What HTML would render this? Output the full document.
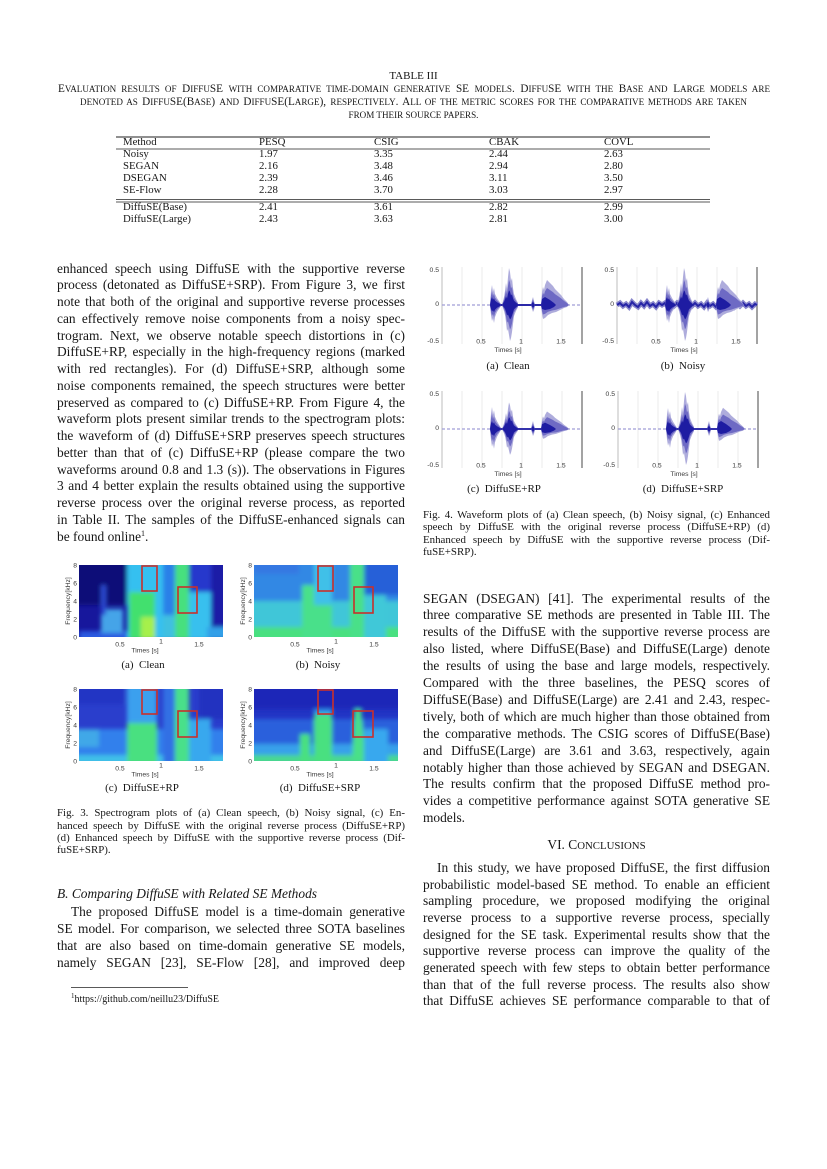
<!DOCTYPE html>
<html><head><meta charset="utf-8">
<style>
body{margin:0;background:#fff}
#p{position:relative;width:827px;height:1169px;overflow:hidden;background:#fff;font-family:"Liberation Serif","Times New Roman",serif;color:#161616}
.l{position:absolute;left:57px;width:348px;font-size:13.4px;line-height:17px;height:17px;text-align:justify;text-align-last:justify;white-space:normal}
.r{left:423px;width:347px}
.n{text-align-last:left}
.cp{position:absolute;left:57px;width:348px;font-size:10.9px;line-height:12px;height:12px;text-align:justify;text-align-last:justify}
.cr{left:423px;width:347px}
.sc{font-variant:small-caps}
.t{position:absolute;font-size:10.8px;line-height:12px;white-space:nowrap}
.tc{position:absolute;font-size:11.2px;line-height:13px;height:13px;white-space:normal;text-align:justify;text-align-last:justify}
.tc i{font-style:normal;font-size:9.1px}
.sub{position:absolute;font-size:11px;line-height:13px;white-space:nowrap;transform:translateX(-50%)}
sup{font-size:8px;line-height:0;vertical-align:5px}
svg text{font-family:"Liberation Sans",sans-serif;font-size:6.8px;fill:#3a3a3a}
</style></head>
<body><div id="p">

<svg width="827" height="1169" style="position:absolute;left:0;top:0" xmlns="http://www.w3.org/2000/svg">
<defs>
<filter id="bl" x="-10%" y="-10%" width="120%" height="120%"><feGaussianBlur stdDeviation="2.2"/></filter>
<clipPath id="sc"><rect x="0" y="0" width="144" height="72"/></clipPath>
<path id="b1" d="M48,0 L49,-14 L50,-20 L51,-13 L52,-17 L53,-11 L55,-7 L57,-4 L59,-1 L59,1 L57,4 L55,7 L53,12 L52,18 L51,13 L50,16 L49,10 Z"/>
<path id="b2" d="M60,0 L62,-8 L63,-14 L64,-22 L65,-16 L66,-28 L67,-37 L68,-33 L69,-24 L70,-27 L71,-17 L72,-11 L74,-6 L76,-2 L76,2 L74,6 L72,11 L71,19 L70,27 L69,33 L68,36 L67,30 L66,24 L65,26 L64,17 L63,10 L62,6 Z"/>
<path id="b3" d="M89,0 L90,-5 L91,-8 L92,-4 L93,0 L92,5 L91,7 L90,4 Z"/>
<path id="b4" d="M99,0 L100,-13 L101,-18 L102,-15 L103,-20 L105,-25 L107,-23 L109,-21 L111,-19 L113,-16 L116,-13 L119,-10 L122,-6 L125,-3 L127,0 L125,2 L122,3 L118,5 L114,7 L110,8 L106,10 L103,13 L101,14 L100,9 Z"/>
<path id="b4c" d="M99,0 L100,-6 L103,-8 L108,-5 L112,-2 L114,0 L112,2 L108,4 L103,5 L100,4 Z"/>
<g id="wax">
  <line x1="0" y1="-38" x2="0" y2="39" stroke="#bdbdbd" stroke-width="1"/>
  <g stroke="#e6e6e6" stroke-width="0.8">
  <line x1="20" y1="-38" x2="20" y2="39"/><line x1="40" y1="-38" x2="40" y2="39"/><line x1="60" y1="-38" x2="60" y2="39"/>
  <line x1="80" y1="-38" x2="80" y2="39"/><line x1="100" y1="-38" x2="100" y2="39"/><line x1="120" y1="-38" x2="120" y2="39"/>
  </g>
  <line x1="140" y1="-38" x2="140" y2="39" stroke="#8c8c8c" stroke-width="1.6"/>
</g>
</defs>

<!-- ============ TABLE RULES ============ -->
<g stroke="#222">
<line x1="116" y1="137" x2="710" y2="137" stroke-width="1.1"/>
<line x1="116" y1="149" x2="710" y2="149" stroke-width="0.7"/>
<line x1="116" y1="199.5" x2="710" y2="199.5" stroke-width="0.7"/>
<line x1="116" y1="202" x2="710" y2="202" stroke-width="0.7"/>
</g>

<!-- ============ WAVEFORMS (Fig 4) ============ -->
<!-- (a) Clean -->
<g transform="translate(442,305)">
  <use href="#wax"/>
  <line x1="0" y1="0" x2="140" y2="0" stroke="#a09ed6" stroke-width="1.2" stroke-dasharray="3,2"/>
  <rect x="58" y="-1" width="42" height="2" fill="#2a28a8"/>
  <g fill="#aeacdc"><use href="#b1"/><use href="#b2"/><use href="#b3"/><use href="#b4"/></g>
  <g fill="#6e6ac4" transform="scale(1,0.68)"><use href="#b1"/><use href="#b2"/><use href="#b3"/><use href="#b4"/></g>
  <g fill="#1e1ca2"><g transform="scale(1,0.4)"><use href="#b1"/><use href="#b2"/><use href="#b3"/></g><use href="#b4c"/></g>
  <text x="-3" y="-33" text-anchor="end">0.5</text>
  <text x="-3" y="1" text-anchor="end">0</text>
  <text x="-3" y="38" text-anchor="end">-0.5</text>
  <text x="39" y="38.5" text-anchor="middle">0.5</text>
  <text x="79" y="38.5" text-anchor="middle">1</text>
  <text x="119" y="38.5" text-anchor="middle">1.5</text>
  <text x="66" y="47" text-anchor="middle">Times [s]</text>
</g>
<!-- (b) Noisy -->
<g transform="translate(617,305)">
  <use href="#wax"/>
  <path d="M0,0 L3,-2 L6,1 L9,-1 L12,2 L15,-3 L18,0 L21,2 L24,-2 L27,1 L30,-3 L33,1 L36,-1 L39,2 L42,-2 L45,0 L48,-2 L51,2 L54,-1 L57,1 L60,-2 L63,1 L66,-1 L69,2 L72,-2 L75,1 L78,-2 L81,1 L84,-1 L87,2 L90,-2 L93,1 L96,-1 L99,2 L102,-1 L105,1 L108,-2 L111,1 L114,-1 L117,2 L120,-2 L123,1 L126,-2 L129,1 L132,-1 L135,2 L138,-1 L140,0" fill="none" stroke="#8a88cc" stroke-width="5"/>
  <path d="M0,0 L3,-2 L6,1 L9,-1 L12,2 L15,-3 L18,0 L21,2 L24,-2 L27,1 L30,-3 L33,1 L36,-1 L39,2 L42,-2 L45,0 L48,-2 L51,2 L54,-1 L57,1 L60,-2 L63,1 L66,-1 L69,2 L72,-2 L75,1 L78,-2 L81,1 L84,-1 L87,2 L90,-2 L93,1 L96,-1 L99,2 L102,-1 L105,1 L108,-2 L111,1 L114,-1 L117,2 L120,-2 L123,1 L126,-2 L129,1 L132,-1 L135,2 L138,-1 L140,0" fill="none" stroke="#2624a6" stroke-width="2"/>
  <g fill="#aeacdc"><use href="#b1"/><use href="#b2"/><use href="#b3"/><use href="#b4"/></g>
  <g fill="#6e6ac4" transform="scale(1,0.68)"><use href="#b1"/><use href="#b2"/><use href="#b3"/><use href="#b4"/></g>
  <g fill="#1e1ca2"><g transform="scale(1,0.4)"><use href="#b1"/><use href="#b2"/><use href="#b3"/></g><use href="#b4c"/></g>
  <text x="-3" y="-33" text-anchor="end">0.5</text>
  <text x="-3" y="1" text-anchor="end">0</text>
  <text x="-3" y="38" text-anchor="end">-0.5</text>
  <text x="39" y="38.5" text-anchor="middle">0.5</text>
  <text x="79" y="38.5" text-anchor="middle">1</text>
  <text x="119" y="38.5" text-anchor="middle">1.5</text>
  <text x="67" y="47" text-anchor="middle">Times [s]</text>
</g>
<!-- (c) RP -->
<g transform="translate(442,429)">
  <use href="#wax"/>
  <line x1="0" y1="0" x2="140" y2="0" stroke="#a09ed6" stroke-width="1.2" stroke-dasharray="3,2"/>
  <rect x="58" y="-1" width="42" height="2" fill="#3432ac"/>
  <g fill="#aeacdc"><use href="#b1" transform="scale(1,1.1)"/><use href="#b2" transform="scale(1,0.72)"/><use href="#b3"/><use href="#b4" transform="scale(1,0.7)"/></g>
  <g fill="#6e6ac4" transform="scale(1,0.68)"><use href="#b1" transform="scale(1,1.1)"/><use href="#b2" transform="scale(1,0.72)"/><use href="#b3"/><use href="#b4" transform="scale(1,0.7)"/></g>
  <g fill="#1e1ca2"><g transform="scale(1,0.4)"><use href="#b1"/><use href="#b2" transform="scale(1,0.8)"/><use href="#b3"/></g><use href="#b4c" transform="scale(1,0.8)"/></g>
  <text x="-3" y="-33" text-anchor="end">0.5</text>
  <text x="-3" y="1" text-anchor="end">0</text>
  <text x="-3" y="38" text-anchor="end">-0.5</text>
  <text x="39" y="38.5" text-anchor="middle">0.5</text>
  <text x="79" y="38.5" text-anchor="middle">1</text>
  <text x="119" y="38.5" text-anchor="middle">1.5</text>
  <text x="66" y="47" text-anchor="middle">Times [s]</text>
</g>
<!-- (d) SRP -->
<g transform="translate(618,429)">
  <use href="#wax"/>
  <line x1="0" y1="0" x2="140" y2="0" stroke="#a09ed6" stroke-width="1.2" stroke-dasharray="3,2"/>
  <rect x="58" y="-1" width="42" height="2" fill="#3432ac"/>
  <g fill="#aeacdc"><use href="#b1" transform="scale(1,1.05)"/><use href="#b2"/><use href="#b3"/><use href="#b4" transform="scale(1,0.85)"/></g>
  <g fill="#6e6ac4" transform="scale(1,0.68)"><use href="#b1"/><use href="#b2"/><use href="#b3"/><use href="#b4" transform="scale(1,0.85)"/></g>
  <g fill="#1e1ca2"><g transform="scale(1,0.4)"><use href="#b1"/><use href="#b2"/><use href="#b3"/></g><use href="#b4c"/></g>
  <text x="-3" y="-33" text-anchor="end">0.5</text>
  <text x="-3" y="1" text-anchor="end">0</text>
  <text x="-3" y="38" text-anchor="end">-0.5</text>
  <text x="39" y="38.5" text-anchor="middle">0.5</text>
  <text x="79" y="38.5" text-anchor="middle">1</text>
  <text x="119" y="38.5" text-anchor="middle">1.5</text>
  <text x="66" y="47" text-anchor="middle">Times [s]</text>
</g>

<!-- ============ SPECTROGRAMS (Fig 3) ============ -->
<!-- (a) Clean -->
<g transform="translate(79,565)">
  <g clip-path="url(#sc)">
    <rect width="144" height="72" fill="#17179c"/>
    <g filter="url(#bl)">
      <rect x="-5" y="-5" width="53" height="45" fill="#0f0f78"/>
      <rect x="0" y="66" width="48" height="10" fill="#2a5ae0"/>
      <rect x="22" y="44" width="22" height="24" fill="#44a4e8"/>
      <rect x="22" y="20" width="5" height="30" fill="#2a4ad0"/>
      <rect x="48" y="-5" width="36" height="80" fill="#36c0f0"/>
      <rect x="50" y="27" width="26" height="48" fill="#42e06e"/>
      <rect x="62" y="52" width="14" height="22" fill="#a6f04c"/>
      <rect x="84" y="-5" width="12" height="80" fill="#2a80e8"/>
      <rect x="84" y="50" width="12" height="25" fill="#40c0e0"/>
      <rect x="96" y="-5" width="14" height="80" fill="#46e07e"/>
      <rect x="110" y="27" width="22" height="48" fill="#38c0ee"/>
      <rect x="110" y="-5" width="22" height="32" fill="#2838cc"/>
      <rect x="132" y="-5" width="17" height="80" fill="#1a1ea6"/>
      <rect x="128" y="62" width="20" height="12" fill="#30a0e8"/>
    </g>
  </g>
  <text x="-2" y="2.5" text-anchor="end">8</text>
  <text x="-2" y="20.5" text-anchor="end">6</text>
  <text x="-2" y="38.5" text-anchor="end">4</text>
  <text x="-2" y="56.5" text-anchor="end">2</text>
  <text x="-2" y="74.5" text-anchor="end">0</text>
  <text transform="translate(-9,36) rotate(-90)" text-anchor="middle">Frequency[kHz]</text>
  <text x="41" y="81.5" text-anchor="middle">0.5</text>
  <text x="82" y="78.5" text-anchor="middle">1</text>
  <text x="120" y="81.5" text-anchor="middle">1.5</text>
  <text x="66" y="87.5" text-anchor="middle">Times [s]</text>
</g>
<!-- (b) Noisy -->
<g transform="translate(254,565)">
  <g clip-path="url(#sc)">
    <rect width="144" height="72" fill="#3a8ee6"/>
    <g filter="url(#bl)">
      <rect x="-5" y="-5" width="154" height="41" fill="#3188e4"/>
      <rect x="-5" y="36" width="154" height="40" fill="#40c6d8"/>
      <rect x="-5" y="62" width="154" height="14" fill="#48e080"/>
      <rect x="48" y="20" width="30" height="56" fill="#48e08a"/>
      <rect x="60" y="-5" width="18" height="45" fill="#40c0e8"/>
      <rect x="96" y="-5" width="14" height="80" fill="#48e088"/>
      <rect x="110" y="30" width="22" height="46" fill="#40c8d8"/>
      <rect x="110" y="-5" width="40" height="35" fill="#2860d8"/>
      <rect x="0" y="-5" width="45" height="14" fill="#3478e2"/>
    </g>
  </g>
  <text x="-2" y="2.5" text-anchor="end">8</text>
  <text x="-2" y="20.5" text-anchor="end">6</text>
  <text x="-2" y="38.5" text-anchor="end">4</text>
  <text x="-2" y="56.5" text-anchor="end">2</text>
  <text x="-2" y="74.5" text-anchor="end">0</text>
  <text transform="translate(-9,36) rotate(-90)" text-anchor="middle">Frequency[kHz]</text>
  <text x="41" y="81.5" text-anchor="middle">0.5</text>
  <text x="82" y="78.5" text-anchor="middle">1</text>
  <text x="120" y="81.5" text-anchor="middle">1.5</text>
  <text x="66" y="87.5" text-anchor="middle">Times [s]</text>
</g>
<!-- (c) RP -->
<g transform="translate(79,689)">
  <g clip-path="url(#sc)">
    <rect width="144" height="72" fill="#2a3ecc"/>
    <g filter="url(#bl)">
      <rect x="-5" y="40" width="154" height="36" fill="#3080ec"/>
      <rect x="-5" y="66" width="154" height="10" fill="#40c0e8"/>
      <rect x="-5" y="40" width="25" height="18" fill="#40a8e8"/>
      <rect x="48" y="-5" width="30" height="80" fill="#3aa0ee"/>
      <rect x="48" y="34" width="30" height="42" fill="#48e080"/>
      <rect x="84" y="-5" width="12" height="80" fill="#3070e4"/>
      <rect x="96" y="-5" width="14" height="80" fill="#48e08a"/>
      <rect x="110" y="30" width="22" height="46" fill="#38a8ee"/>
      <rect x="120" y="-5" width="29" height="35" fill="#2030c0"/>
      <rect x="-5" y="-5" width="50" height="20" fill="#2234c4"/>
    </g>
  </g>
  <text x="-2" y="2.5" text-anchor="end">8</text>
  <text x="-2" y="20.5" text-anchor="end">6</text>
  <text x="-2" y="38.5" text-anchor="end">4</text>
  <text x="-2" y="56.5" text-anchor="end">2</text>
  <text x="-2" y="74.5" text-anchor="end">0</text>
  <text transform="translate(-9,36) rotate(-90)" text-anchor="middle">Frequency[kHz]</text>
  <text x="41" y="81.5" text-anchor="middle">0.5</text>
  <text x="82" y="78.5" text-anchor="middle">1</text>
  <text x="120" y="81.5" text-anchor="middle">1.5</text>
  <text x="66" y="87.5" text-anchor="middle">Times [s]</text>
</g>
<!-- (d) SRP -->
<g transform="translate(254,689)">
  <g clip-path="url(#sc)">
    <rect width="144" height="72" fill="#2234c4"/>
    <g filter="url(#bl)">
      <rect x="-5" y="30" width="154" height="46" fill="#2a60dc"/>
      <rect x="-5" y="55" width="154" height="12" fill="#38a0ea"/>
      <rect x="-5" y="66" width="154" height="10" fill="#48d890"/>
      <rect x="46" y="45" width="10" height="31" fill="#48e080"/>
      <rect x="60" y="25" width="18" height="51" fill="#48e080"/>
      <rect x="60" y="-5" width="18" height="30" fill="#3090ec"/>
      <path d="M98,72 L101,10 L106,10 L112,72 Z" fill="#48e088"/>
      <rect x="110" y="40" width="24" height="36" fill="#38a8ee"/>
      <rect x="-5" y="-5" width="154" height="25" fill="#1c28b8"/>
    </g>
  </g>
  <text x="-2" y="2.5" text-anchor="end">8</text>
  <text x="-2" y="20.5" text-anchor="end">6</text>
  <text x="-2" y="38.5" text-anchor="end">4</text>
  <text x="-2" y="56.5" text-anchor="end">2</text>
  <text x="-2" y="74.5" text-anchor="end">0</text>
  <text transform="translate(-9,36) rotate(-90)" text-anchor="middle">Frequency[kHz]</text>
  <text x="41" y="81.5" text-anchor="middle">0.5</text>
  <text x="82" y="78.5" text-anchor="middle">1</text>
  <text x="120" y="81.5" text-anchor="middle">1.5</text>
  <text x="66" y="87.5" text-anchor="middle">Times [s]</text>
</g>
<!-- red boxes -->
<g fill="none" stroke="#c8302c" stroke-width="1.6">
  <rect x="142" y="566" width="15" height="25"/>
  <rect x="178" y="587" width="19" height="26"/>
  <rect x="318" y="566" width="15" height="25"/>
  <rect x="354" y="587" width="19" height="26"/>
  <rect x="142" y="690" width="15" height="24"/>
  <rect x="178" y="711" width="19" height="26"/>
  <rect x="318" y="690" width="15" height="24"/>
  <rect x="353" y="711" width="20" height="26"/>
</g>
<!-- footnote rule -->
<line x1="71" y1="987.5" x2="188" y2="987.5" stroke="#222" stroke-width="0.8"/>
</svg>

<!-- ============ TABLE CAPTION ============ -->
<div class="t" style="left:0;width:827px;text-align:center;top:70px;font-size:11px">TABLE III</div>
<div class="tc" style="left:58px;width:712px;top:83px">E<i>VALUATION RESULTS OF</i> D<i>IFFU</i>SE <i>WITH COMPARATIVE TIME-DOMAIN GENERATIVE</i> SE <i>MODELS</i>. D<i>IFFU</i>SE <i>WITH THE</i> B<i>ASE AND</i> L<i>ARGE MODELS ARE</i></div>
<div class="tc" style="left:80px;width:667px;top:96px"><i>DENOTED AS</i> D<i>IFFU</i>SE(B<i>ASE</i>) <i>AND</i> D<i>IFFU</i>SE(L<i>ARGE</i>), <i>RESPECTIVELY</i>. A<i>LL OF THE METRIC SCORES FOR THE COMPARATIVE METHODS ARE TAKEN</i></div>
<div class="tc" style="left:0;width:827px;top:109px;text-align:center;text-align-last:center"><i>FROM THEIR SOURCE PAPERS.</i></div>

<!-- ============ TABLE ============ -->
<div class="t" style="left:123px;top:136px">Method</div><div class="t" style="left:259px;top:136px">PESQ</div><div class="t" style="left:374px;top:136px">CSIG</div><div class="t" style="left:489px;top:136px">CBAK</div><div class="t" style="left:604px;top:136px">COVL</div>
<div class="t" style="left:123px;top:148px">Noisy</div><div class="t" style="left:259px;top:148px">1.97</div><div class="t" style="left:374px;top:148px">3.35</div><div class="t" style="left:489px;top:148px">2.44</div><div class="t" style="left:604px;top:148px">2.63</div>
<div class="t" style="left:123px;top:160px">SEGAN</div><div class="t" style="left:259px;top:160px">2.16</div><div class="t" style="left:374px;top:160px">3.48</div><div class="t" style="left:489px;top:160px">2.94</div><div class="t" style="left:604px;top:160px">2.80</div>
<div class="t" style="left:123px;top:172px">DSEGAN</div><div class="t" style="left:259px;top:172px">2.39</div><div class="t" style="left:374px;top:172px">3.46</div><div class="t" style="left:489px;top:172px">3.11</div><div class="t" style="left:604px;top:172px">3.50</div>
<div class="t" style="left:123px;top:184px">SE-Flow</div><div class="t" style="left:259px;top:184px">2.28</div><div class="t" style="left:374px;top:184px">3.70</div><div class="t" style="left:489px;top:184px">3.03</div><div class="t" style="left:604px;top:184px">2.97</div>
<div class="t" style="left:123px;top:201px">DiffuSE(Base)</div><div class="t" style="left:259px;top:201px">2.41</div><div class="t" style="left:374px;top:201px">3.61</div><div class="t" style="left:489px;top:201px">2.82</div><div class="t" style="left:604px;top:201px">2.99</div>
<div class="t" style="left:123px;top:213px">DiffuSE(Large)</div><div class="t" style="left:259px;top:213px">2.43</div><div class="t" style="left:374px;top:213px">3.63</div><div class="t" style="left:489px;top:213px">2.81</div><div class="t" style="left:604px;top:213px">3.00</div>

<!-- ============ LEFT COLUMN TEXT ============ -->
<div class="l" style="top:259.5px">enhanced speech using DiffuSE with the supportive reverse</div>
<div class="l" style="top:276.3px">process (detonated as DiffuSE+SRP). From Figure 3, we first</div>
<div class="l" style="top:293px">note that both of the original and supportive reverse processes</div>
<div class="l" style="top:309.8px">can effectively remove noise components from a noisy spec-</div>
<div class="l" style="top:326.5px">trogram. Next, we observe notable speech distortions in (c)</div>
<div class="l" style="top:343.3px">DiffuSE+RP, especially in the high-frequency regions (marked</div>
<div class="l" style="top:360px">with red rectangles). For (d) DiffuSE+SRP, although some</div>
<div class="l" style="top:376.8px">noise components remained, the speech structures were better</div>
<div class="l" style="top:393.5px">preserved as compared to (c) DiffuSE+RP. From Figure 4, the</div>
<div class="l" style="top:410.3px">waveform plots present similar trends to the spectrogram plots:</div>
<div class="l" style="top:427px">the waveform of (d) DiffuSE+SRP preserves speech structures</div>
<div class="l" style="top:443.8px">better than that of (c) DiffuSE+RP (please compare the two</div>
<div class="l" style="top:460.5px">waveforms around 0.8 and 1.3 (s)). The observations in Figures</div>
<div class="l" style="top:477.3px">3 and 4 better explain the results obtained using the supportive</div>
<div class="l" style="top:494px">reverse process over the original reverse process, as reported</div>
<div class="l" style="top:510.8px">in Table II. The samples of the DiffuSE-enhanced signals can</div>
<div class="l n" style="top:527.5px">be found online<sup>1</sup>.</div>

<!-- Fig 3 subcaptions -->
<div class="sub" style="left:143px;top:659px">(a)&nbsp; Clean</div>
<div class="sub" style="left:318px;top:659px">(b)&nbsp; Noisy</div>
<div class="sub" style="left:142px;top:782px">(c)&nbsp; DiffuSE+RP</div>
<div class="sub" style="left:320px;top:782px">(d)&nbsp; DiffuSE+SRP</div>

<!-- Fig 3 caption -->
<div class="cp" style="top:807px">Fig. 3. Spectrogram plots of (a) Clean speech, (b) Noisy signal, (c) En-</div>
<div class="cp" style="top:820px">hanced speech by DiffuSE with the original reverse process (DiffuSE+RP)</div>
<div class="cp" style="top:832px">(d) Enhanced speech by DiffuSE with the supportive reverse process (Dif-</div>
<div class="cp n" style="top:844px">fuSE+SRP).</div>

<div class="l n" style="top:884.5px;font-style:italic">B. Comparing DiffuSE with Related SE Methods</div>
<div class="l" style="top:902.5px;left:71px;width:334px">The proposed DiffuSE model is a time-domain generative</div>
<div class="l" style="top:919.5px">SE model. For comparison, we selected three SOTA baselines</div>
<div class="l" style="top:936.5px">that are also based on time-domain generative SE models,</div>
<div class="l" style="top:953.5px">namely SEGAN [23], SE-Flow [28], and improved deep</div>

<div class="t" style="left:71px;top:994px;font-size:10px"><sup style="font-size:7px;vertical-align:4px">1</sup>https://github.com/neillu23/DiffuSE</div>

<!-- ============ RIGHT COLUMN ============ -->
<div class="sub" style="left:508px;top:360px">(a)&nbsp; Clean</div>
<div class="sub" style="left:683px;top:360px">(b)&nbsp; Noisy</div>
<div class="sub" style="left:504px;top:483px">(c)&nbsp; DiffuSE+RP</div>
<div class="sub" style="left:683px;top:483px">(d)&nbsp; DiffuSE+SRP</div>

<div class="cp cr" style="top:509px">Fig. 4. Waveform plots of (a) Clean speech, (b) Noisy signal, (c) Enhanced</div>
<div class="cp cr" style="top:521px">speech by DiffuSE with the original reverse process (DiffuSE+RP) (d)</div>
<div class="cp cr" style="top:534px">Enhanced speech by DiffuSE with the supportive reverse process (Dif-</div>
<div class="cp cr n" style="top:546px">fuSE+SRP).</div>

<div class="l r" style="top:589.5px">SEGAN (DSEGAN) [41]. The experimental results of the</div>
<div class="l r" style="top:606.4px">three comparative SE methods are presented in Table III. The</div>
<div class="l r" style="top:623.3px">results of the DiffuSE with the supportive reverse process are</div>
<div class="l r" style="top:640.2px">also listed, where DiffuSE(Base) and DiffuSE(Large) denote</div>
<div class="l r" style="top:657.1px">the results of using the base and large models, respectively.</div>
<div class="l r" style="top:674px">Compared with the three baselines, the PESQ scores of</div>
<div class="l r" style="top:690.9px">DiffuSE(Base) and DiffuSE(Large) are 2.41 and 2.43, respec-</div>
<div class="l r" style="top:707.8px">tively, both of which are much higher than those obtained from</div>
<div class="l r" style="top:724.7px">the comparative methods. The CSIG scores of DiffuSE(Base)</div>
<div class="l r" style="top:741.6px">and DiffuSE(Large) are 3.61 and 3.63, respectively, again</div>
<div class="l r" style="top:758.5px">notably higher than those achieved by SEGAN and DSEGAN.</div>
<div class="l r" style="top:775.4px">The results confirm that the proposed DiffuSE method pro-</div>
<div class="l r" style="top:792.3px">vides a competitive performance against SOTA generative SE</div>
<div class="l r n" style="top:809.2px">models.</div>

<div class="l r" style="top:835.5px;text-align:center;text-align-last:center;font-size:13.4px">VI. C<span style="font-size:10.8px">ONCLUSIONS</span></div>

<div class="l r" style="top:858.5px;left:437px;width:333px">In this study, we have proposed DiffuSE, the first diffusion</div>
<div class="l r" style="top:875.5px">probabilistic model-based SE method. To enable an efficient</div>
<div class="l r" style="top:892.2px">sampling procedure, we proposed modifying the original</div>
<div class="l r" style="top:908.9px">reverse process to a supportive reverse process, specially</div>
<div class="l r" style="top:925.6px">designed for the SE task. Experimental results show that the</div>
<div class="l r" style="top:942.3px">supportive reverse process can improve the quality of the</div>
<div class="l r" style="top:959px">generated speech with few steps to obtain better performance</div>
<div class="l r" style="top:975.7px">than that of the full reverse process. The results also show</div>
<div class="l r" style="top:992.4px">that DiffuSE achieves SE performance comparable to that of</div>

</div></body></html>
